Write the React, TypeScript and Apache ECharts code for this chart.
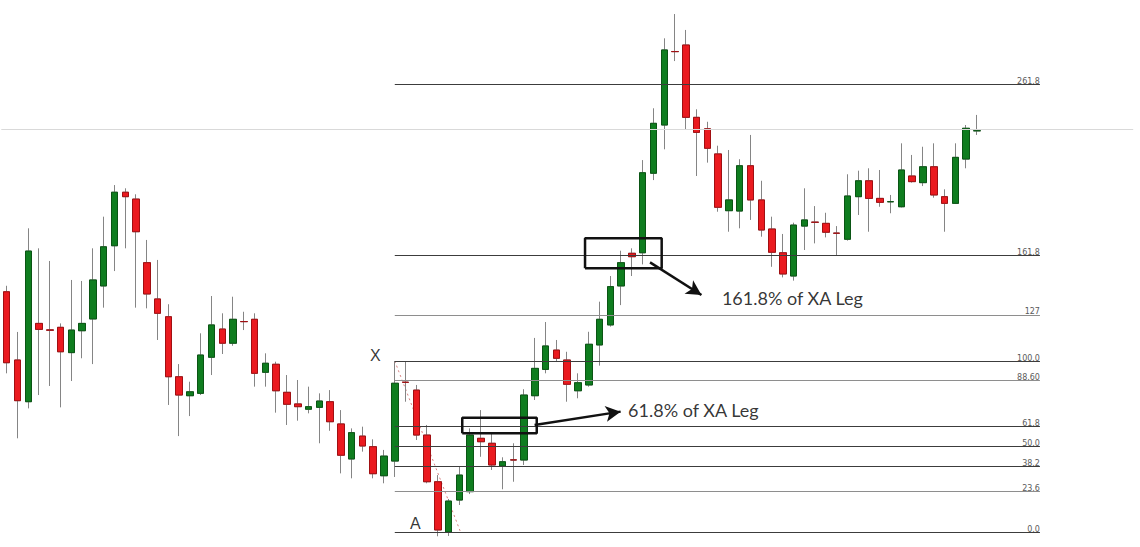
import React, { useEffect, useRef } from "react";
import * as echarts from "echarts";

// Candles, in Fibonacci-percent units of the XA leg (0 = A, 100 = X)
const opens = [
  140.5, 100.6, 76.2, 122.0, 118.2, 119.7, 104.9, 117.7, 124.6, 143.9,
  167.4, 198.7, 194.7, 157.5, 136.3, 125.9, 90.8, 79.7, 81.1, 102.2,
  118.7, 110.4, 123.1, 124.4, 93.4, 98.1, 81.7, 74.9, 71.8, 72.9,
  76.2, 63.2, 42.7, 56.1, 49.9, 32.9, 41.5, 87.6, 83.0, 56.7,
  29.4, 0.0, 18.7, 23.6, 54.8, 51.9, 38.6, 42.2, 42.1, 79.7,
  95.1, 106.4, 100.6, 82.6, 86.0, 109.4, 121.1, 143.9, 163.0, 163.3,
  209.8, 238.0, 281.0, 284.8, 242.5, 235.8, 221.1, 187.9, 187.7, 214.2,
  194.2, 177.2, 163.3, 149.7, 178.9, 181.2, 180.5, 174.8, 171.2, 196.1,
  205.4, 195.1, 193.1, 190.2, 208.2, 204.3, 213.6, 196.1, 192.2, 218.1,
  234.6,
];
const closes = [
  99.0, 76.8, 164.3, 118.5, 118.0, 105.4, 118.1, 122.0, 147.4, 166.8,
  198.7, 196.1, 175.6, 139.2, 127.9, 90.8, 80.1, 82.0, 103.5, 121.1,
  110.4, 124.4, 123.0, 92.8, 98.7, 82.6, 74.7, 73.3, 73.3, 76.6,
  64.5, 44.9, 58.1, 50.3, 34.1, 44.4, 87.0, 87.5, 56.7, 29.4,
  1.2, 18.1, 33.3, 56.7, 52.8, 39.2, 41.1, 42.1, 80.1, 95.7,
  108.8, 101.6, 86.4, 87.3, 109.8, 124.4, 143.5, 157.5, 161.0, 210.1,
  239.0, 281.9, 280.9, 242.5, 233.7, 224.4, 189.9, 194.2, 214.2, 194.2,
  176.6, 163.6, 150.9, 179.5, 182.5, 181.1, 175.3, 174.7, 196.5, 205.4,
  195.1, 192.8, 193.2, 211.7, 204.9, 213.6, 197.1, 192.2, 219.1, 236.1,
  234.7,
];
const lows = [
  92.8, 54.8, 72.3, 80.1, 85.4, 72.9, 88.3, 101.6, 98.2, 131.2,
  152.6, 165.9, 131.2, 130.8, 112.3, 74.3, 56.1, 67.8, 80.1, 91.8,
  104.1, 108.9, 118.1, 85.0, 85.0, 69.8, 62.6, 65.1, 69.4, 51.9,
  59.2, 34.3, 31.4, 47.0, 31.4, 28.5, 32.2, 76.2, 53.8, 28.5,
  -2.5, -2.3, 15.8, 22.2, 44.0, 36.3, 25.0, 29.4, 39.2, 77.2,
  92.8, 99.4, 76.2, 78.2, 85.0, 97.3, 120.1, 132.7, 149.7, 156.5,
  205.8, 223.8, 275.4, 235.5, 208.2, 216.0, 187.3, 175.6, 177.6, 182.5,
  172.7, 155.1, 148.9, 147.0, 164.9, 168.8, 172.3, 161.4, 170.4, 185.4,
  175.6, 190.2, 186.4, 189.8, 204.3, 202.3, 195.5, 175.6, 191.8, 212.7,
  232.2,
];
const highs = [
  144.0, 117.0, 177.6, 165.9, 158.5, 122.0, 147.4, 146.8, 165.9, 184.4,
  202.9, 201.0, 197.5, 170.8, 159.1, 133.2, 98.2, 87.9, 116.2, 138.0,
  127.9, 137.6, 128.8, 127.9, 104.5, 99.6, 91.8, 88.9, 85.0, 81.1,
  83.0, 71.3, 60.6, 61.6, 54.2, 48.0, 100.0, 99.6, 86.0, 62.6,
  33.3, 19.3, 38.2, 60.6, 71.3, 57.7, 43.7, 51.9, 83.5, 113.5,
  122.8, 112.3, 105.4, 92.8, 117.1, 134.7, 149.7, 164.5, 165.9, 217.5,
  247.8, 288.7, 302.9, 293.6, 247.2, 239.9, 225.9, 223.4, 218.0, 232.2,
  205.4, 184.4, 174.3, 180.9, 201.0, 190.6, 186.7, 178.9, 209.2, 211.3,
  212.7, 211.7, 197.1, 227.3, 220.5, 225.3, 227.3, 200.4, 227.3, 238.0,
  243.9,
];
const EMPTY_SLOTS = 14; // blank bars to the right of the last candle
const categories = Array.from({ length: opens.length + EMPTY_SLOTS }, (_, i) => `Bar ${i + 1}`);

// Fibonacci levels of the XA leg
const fibLevels = [0, 23.6, 38.2, 50, 61.8, 88.6, 100, 127, 161.8, 261.8];
const fibLabels = ["0.0", "23.6", "38.2", "50.0", "61.8", "88.60", "100.0", "127", "161.8", "261.8"];
const fibDark = [true, false, true, true, true, false, true, false, true, true];
const fibStartBar = 36; // X bar
const fibEndBar = 95.85;
const currentPrice = 235.3;

// XA leg
const xPoint = [36, 100];
const aPoint = [42.1, 0];
const xLabelPos = [34.2, 103.5];
const aLabelPos = [37.9, 5.1];

// Highlight boxes [bar1, bar2, level1, level2]
const box618 = [42.26, 49.17, 57.7, 66.8];
const box1618 = [53.65, 60.76, 154.2, 171.8];
// Arrows [fromBar, fromLevel, toBar, toLevel]
const arrow618 = [48.97, 62.6, 56.95, 70.4];
const arrow1618 = [59.68, 157.7, 64.45, 138.6];
// Notes
const note618 = { text: "61.8% of XA Leg", pos: [57.6, 71.3] };
const note1618 = { text: "161.8% of XA Leg", pos: [66.3, 136.7] };

const UP = "#0f7d1f";
const UP_EDGE = "#0a5514";
const DOWN = "#ea1a1f";
const DOWN_EDGE = "#a10f12";
const WICK = "#858585";

function boxPath(b: number[]) {
  return [
    [b[0], b[2]],
    [b[1], b[2]],
    [b[1], b[3]],
    [b[0], b[3]],
    [b[0], b[2]],
  ];
}

export default function App() {
  const ref = useRef<HTMLDivElement>(null);

  useEffect(() => {
    if (!ref.current) return;
    const chart = echarts.init(ref.current, undefined, { renderer: "svg" });

    const wickData = opens.map((o, i) => [o, closes[i], lows[i], highs[i]]);
    const bodyData = opens.map((o, i) => [o, closes[i], Math.min(o, closes[i]), Math.max(o, closes[i])]);

    const fibMarkLines = fibLevels.map((lvl, i) => [
      {
        coord: [fibStartBar, lvl],
        lineStyle: { color: fibDark[i] ? "#3c3c3c" : "#8e8e8e", width: 1, type: "solid" },
        label: { formatter: fibLabels[i] },
      },
      { coord: [fibEndBar, lvl] },
    ]);

    const option: any = {
      animation: false,
      backgroundColor: "#ffffff",
      grid: { left: 1.3, right: 6.8, top: 1.9, bottom: 1.3, containLabel: false },
      xAxis: [
        { type: "category", data: categories, show: false, boundaryGap: true },
        { type: "value", min: -0.5, max: categories.length - 0.5, show: false },
      ],
      yAxis: [{ type: "value", min: -8, max: 310, show: false, splitLine: { show: false } }],
      series: [
        {
          name: "wicks",
          type: "candlestick",
          xAxisIndex: 0,
          data: wickData,
          barWidth: 7,
          silent: true,
          itemStyle: {
            color: UP,
            color0: DOWN,
            borderColor: WICK,
            borderColor0: WICK,
            borderWidth: 1,
          },
          markLine: {
            silent: true,
            symbol: ["none", "none"],
            label: { show: false },
            lineStyle: { color: "#d9d9d9", width: 1, type: "solid" },
            data: [{ yAxis: currentPrice }],
          },
          z: 2,
        },
        {
          name: "bodies",
          type: "candlestick",
          xAxisIndex: 0,
          data: bodyData,
          barWidth: 7,
          silent: true,
          itemStyle: {
            color: UP,
            color0: DOWN,
            borderColor: UP_EDGE,
            borderColor0: DOWN_EDGE,
            borderWidth: 1,
          },
          z: 3,
        },
        {
          name: "XA leg",
          type: "line",
          xAxisIndex: 1,
          data: [xPoint, aPoint],
          symbol: "none",
          silent: true,
          lineStyle: { color: "#d98080", width: 1, type: [2, 3] },
          markLine: {
            silent: true,
            symbol: ["none", "none"],
            label: {
              show: true,
              position: "insideEndTop",
              distance: [0, -1],
              fontSize: 8,
              lineHeight: 8,
              fontFamily: "DejaVu Sans",
              color: "#5a5a5a",
            },
            data: fibMarkLines,
          },
          z: 1,
        },
        {
          name: "box 61.8",
          type: "line",
          xAxisIndex: 1,
          data: boxPath(box618),
          symbol: "none",
          silent: true,
          lineStyle: { color: "#111111", width: 2.5 },
          markLine: {
            silent: true,
            symbol: ["none", "arrow"],
            symbolSize: [12, 15],
            label: { show: false },
            lineStyle: { color: "#111111", width: 2.5, type: "solid" },
            data: [
              [{ coord: [arrow618[0], arrow618[1]] }, { coord: [arrow618[2], arrow618[3]] }],
              [{ coord: [arrow1618[0], arrow1618[1]] }, { coord: [arrow1618[2], arrow1618[3]] }],
            ],
          },
          z: 5,
        },
        {
          name: "box 161.8",
          type: "line",
          xAxisIndex: 1,
          data: boxPath(box1618),
          symbol: "none",
          silent: true,
          lineStyle: { color: "#111111", width: 2.5 },
          z: 5,
        },
        {
          name: "notes",
          type: "scatter",
          xAxisIndex: 1,
          symbolSize: 1,
          silent: true,
          itemStyle: { color: "rgba(0,0,0,0)" },
          label: {
            show: true,
            position: "right",
            distance: 0,
            formatter: "{b}",
            fontFamily: "Lato, 'Open Sans', sans-serif",
            fontSize: 18,
            color: "#000000",
          },
          data: [
            { name: note618.text, value: note618.pos },
            { name: note1618.text, value: note1618.pos },
          ],
          z: 6,
        },
        {
          name: "points",
          type: "scatter",
          xAxisIndex: 1,
          symbolSize: 1,
          silent: true,
          itemStyle: { color: "rgba(0,0,0,0)" },
          label: {
            show: true,
            position: "inside",
            formatter: "{b}",
            fontFamily: "'Liberation Sans', Arial, sans-serif",
            fontSize: 16,
            color: "#000000",
          },
          data: [
            { name: "X", value: xLabelPos },
            { name: "A", value: aLabelPos },
          ],
          z: 6,
        },
      ],
    };

    chart.setOption(option);
    return () => chart.dispose();
  }, []);

  return (
    <div
      ref={ref}
      style={{ position: "fixed", left: 0, top: 0, width: 1140, height: 547, background: "#fff" }}
    />
  );
}
